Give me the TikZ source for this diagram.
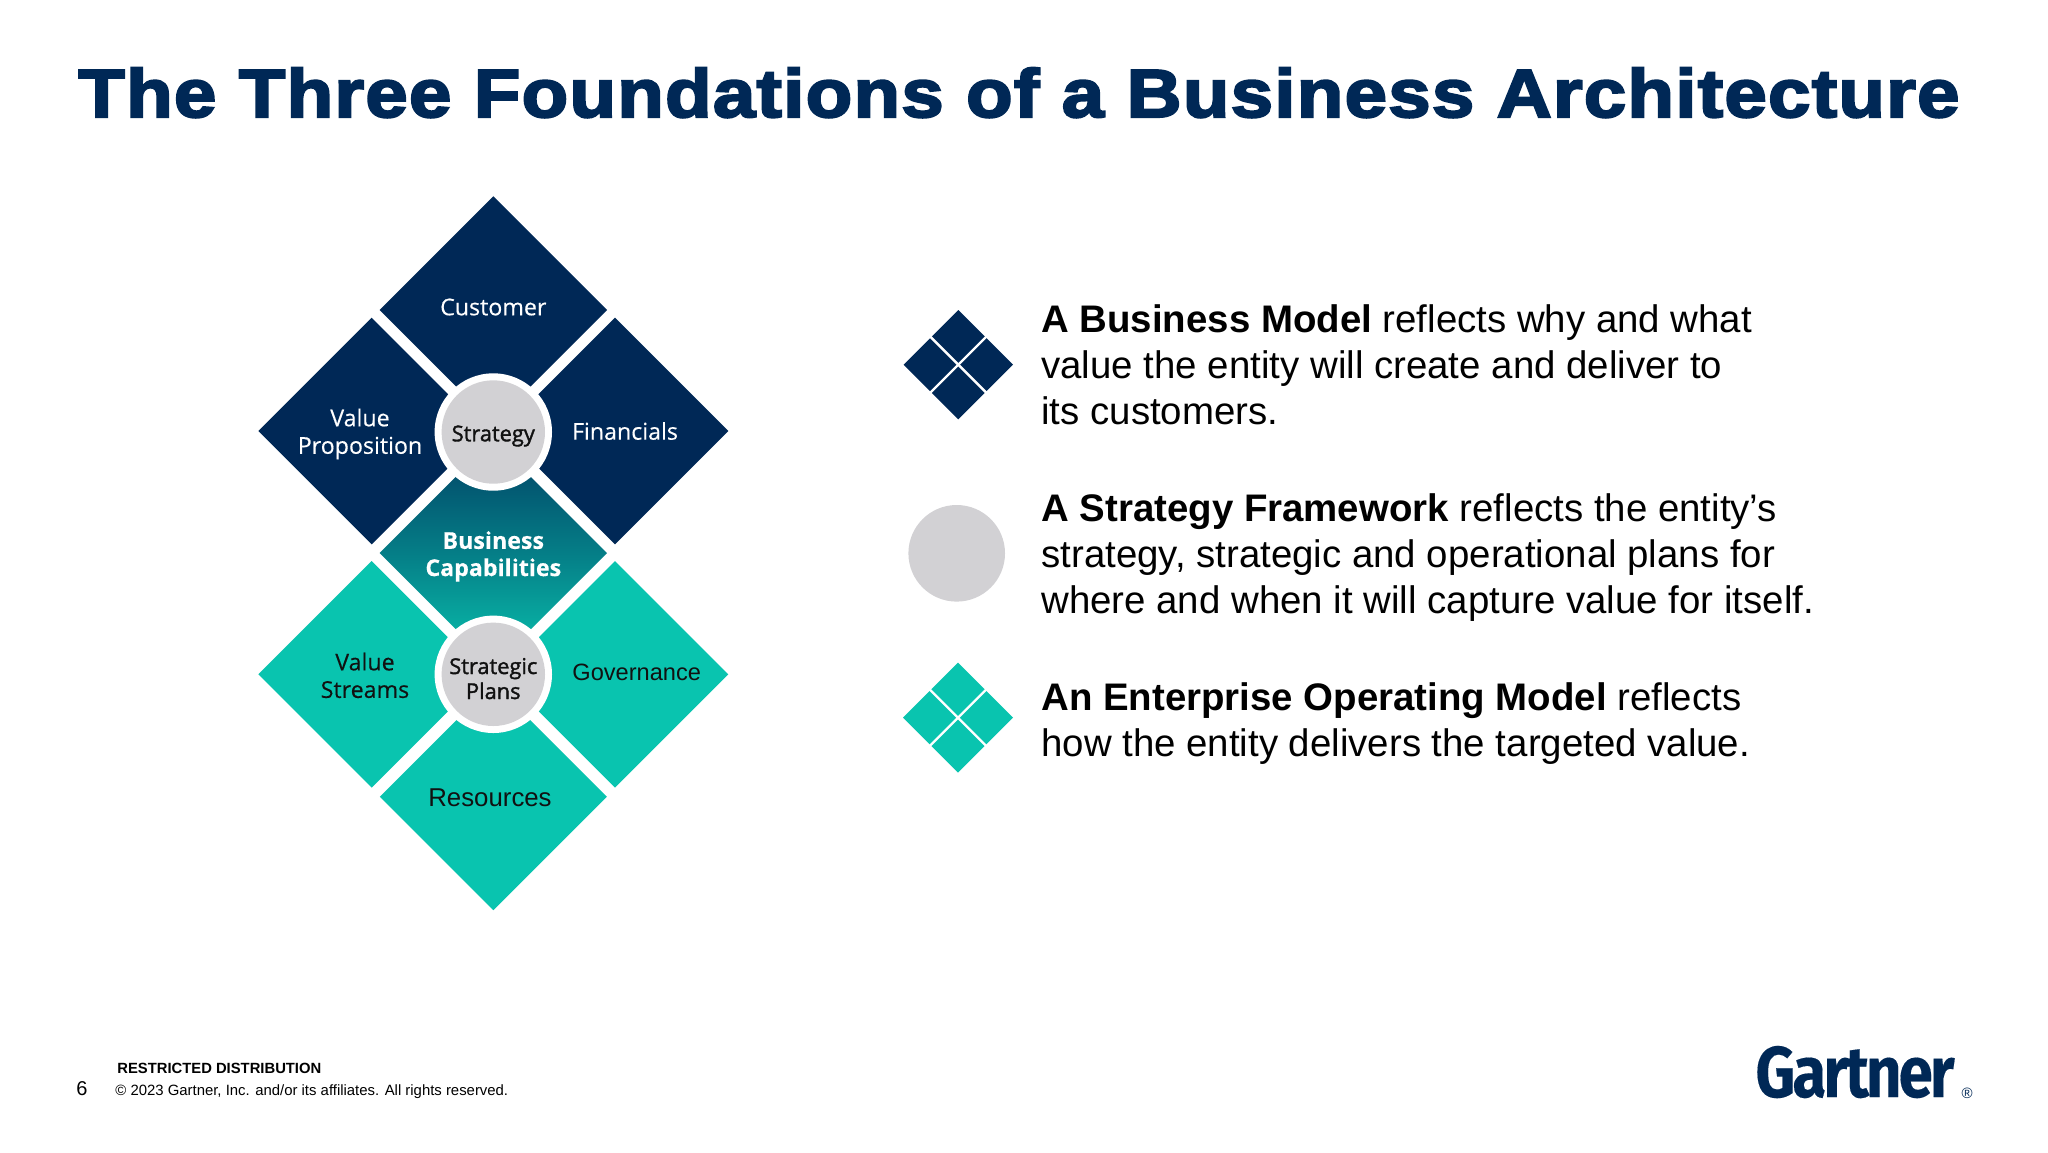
\documentclass[tikz,border=0pt]{standalone}
\usepackage{fontspec}
\setmainfont{Liberation Sans}
\newfontfamily\titlefont[FakeBold=3.2,FakeStretch=1.12,LetterSpace=1.9]{Liberation Sans Bold}
\newfontfamily\labelfont[FakeBold=0.25]{Open Sans}
\newfontfamily\labelmedfont[FakeBold=1.6]{Open Sans}
\newfontfamily\logofont[FakeBold=0.2,FakeStretch=0.86,LetterSpace=-4.2]{Fira Sans Bold}
\definecolor{navy}{HTML}{002856}
\definecolor{teal}{HTML}{09C4AF}
\definecolor{disc}{HTML}{D2D1D4}
\definecolor{inktext}{HTML}{111111}
\newcommand{\diam}[4]{\path[#4] (#1-#3,#2) -- (#1,#2-#3) -- (#1+#3,#2) -- (#1,#2+#3) -- cycle;}
\tikzset{
  x=0.5pt,y=-0.5pt,
  lab/.style={inner sep=0pt,align=center,font=\labelfont\fontsize{11.6}{13.75}\selectfont},
  labw/.style={lab,text=white},
  labk/.style={lab,text=inktext},
  labar/.style={inner sep=0pt,align=center,text=inktext,font=\fontsize{11.8}{14}\selectfont},
  body/.style={inner sep=0pt,anchor=base west,align=left,text=black,font=\fontsize{19.2}{23}\selectfont},
  foot/.style={inner sep=0pt,anchor=base west,text=black}
}
\begin{document}
\begin{tikzpicture}
\useasboundingbox (0,0) rectangle (2048,1152);
\fill[white] (0,0) rectangle (2048,1152);
% title
\node[inner sep=0pt,anchor=base west,text=navy,font=\titlefont\fontsize{34}{40}\selectfont] (title) at (78,117) {The Three Foundations of a Business Architecture};
% big diagram
\diam{493.3}{310}{113.7}{fill=navy}
\diam{371.7}{431}{113.3}{fill=navy}
\diam{615}{431}{113.3}{fill=navy}
\diam{493.3}{553}{113.7}{top color=navy!85!teal,bottom color=teal,middle color=teal!50!navy!90!teal}
\diam{371.7}{674.3}{113.3}{fill=teal}
\diam{615}{674.3}{113.3}{fill=teal}
\diam{493.3}{796.7}{113.5}{fill=teal}
\node[circle,fill=white,minimum size=58.7pt,inner sep=0pt] (ringA) at (493.3,432) {};
\node[circle,fill=disc,minimum size=51.7pt,inner sep=0pt] (discA) at (493.3,432) {};
\node[circle,fill=white,minimum size=58.7pt,inner sep=0pt] (ringB) at (493.3,674.3) {};
\node[circle,fill=disc,minimum size=51.7pt,inner sep=0pt] (discB) at (493.3,674.3) {};
% labels
\node[labw] (customer) at (493.3,307) {Customer};
\node[labw] (valueprop) at (360,434) {Value\\Proposition};
\node[labk,font=\labelmedfont\fontsize{10.9}{13}\selectfont] (strategy) at (493.3,436) {Strategy};
\node[labw] (financials) at (625,431) {Financials};
\node[labw,font=\labelfont\bfseries\fontsize{11.6}{13.6}\selectfont] (buscap) at (493.3,556.4) {Business\\Capabilities};
\node[labk] (valuestreams) at (365,675.4) {Value\\Streams};
\node[labk,font=\labelmedfont\fontsize{10.9}{12.5}\selectfont] (stratplans) at (493.3,678.6) {Strategic\\Plans};
\node[labar] (governance) at (636.7,672) {Governance};
\node[labar,font=\fontsize{12.9}{15}\selectfont] (resources) at (490,798) {Resources};
% navy icon
\diam{958.3}{364.7}{54.7}{fill=navy}
\draw[white,line width=1.2pt] (958.3-28.5,364.7-28.5) -- (958.3+28.5,364.7+28.5);
\draw[white,line width=1.2pt] (958.3+28.5,364.7-28.5) -- (958.3-28.5,364.7+28.5);
% grey icon
\node[circle,fill=disc,minimum size=48.3pt,inner sep=0pt] (iconB) at (956.7,553.3) {};
% teal icon
\diam{958}{717.7}{55}{fill=teal}
\draw[white,line width=1.2pt] (958-28.5,717.7-28.5) -- (958+28.5,717.7+28.5);
\draw[white,line width=1.2pt] (958+28.5,717.7-28.5) -- (958-28.5,717.7+28.5);
% body
\node[body] (textA) at (1041,424.6) {\textbf{A Business Model} reflects why and what\\value the entity will create and deliver to\\its customers.};
\node[body] (textB) at (1041,613.2) {\textbf{A Strategy Framework} reflects the entity’s\\strategy, strategic and operational plans for\\where and when it will capture value for itself.};
\node[body] (textC) at (1041,756.2) {\textbf{An Enterprise Operating Model} reflects\\how the entity delivers the targeted value.};
% footer
\node[foot,font=\fontsize{7.4}{9}\selectfont\bfseries] (restricted) at (117,1073) {RESTRICTED DISTRIBUTION};
\node[foot,font=\fontsize{7.45}{9}\selectfont] (copyright) at (115,1095) {© 2023 Gartner, Inc. and/or its affiliates. All rights reserved.};
\node[foot,font=\fontsize{10}{12}\selectfont] (pagenum) at (76,1095) {6};
% logo
\node[inner sep=0pt,anchor=base west,text=navy,font=\logofont\fontsize{36}{40}\selectfont] (logo) at (1755,1097) {Gartner};
\node[inner sep=0pt,anchor=center,text=navy,font=\fontsize{7.5}{8}\selectfont] (logoreg) at (1967,1093) {®};
\end{tikzpicture}
\end{document}
